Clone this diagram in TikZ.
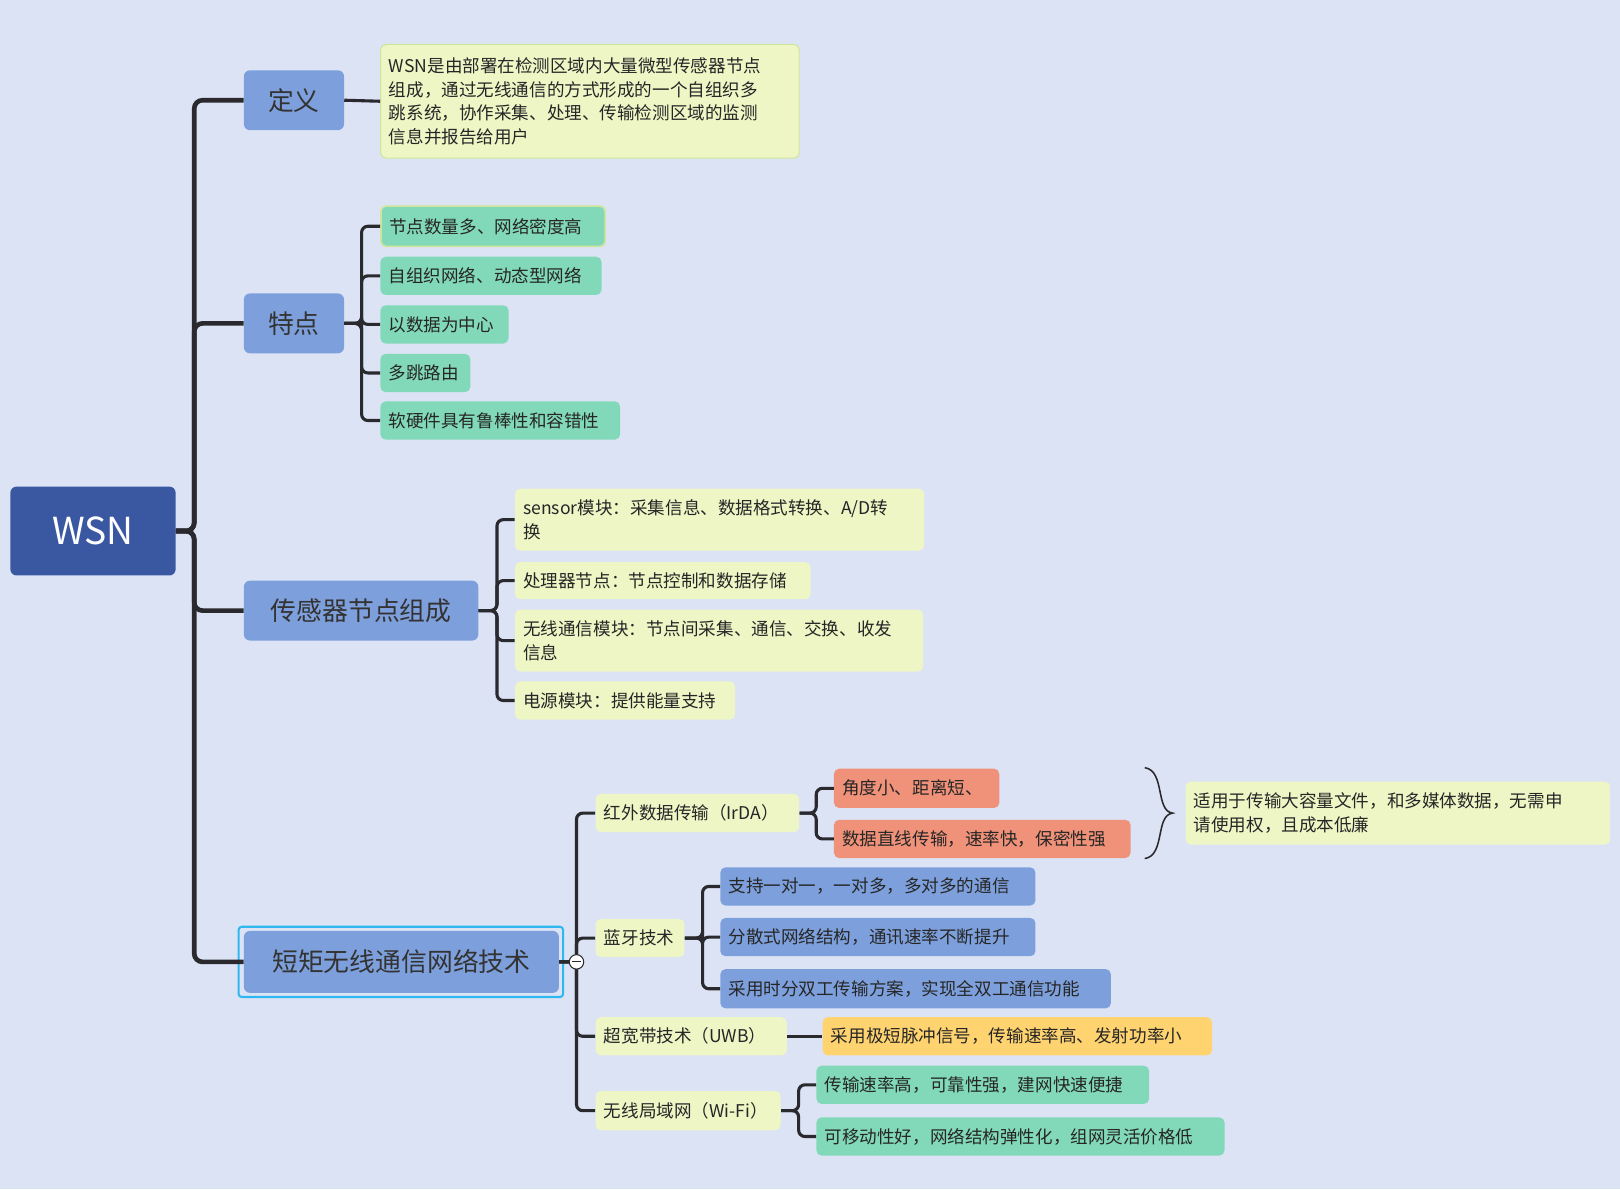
\documentclass[tikz,border=0pt]{standalone}
\usepackage{fontspec}
\setmainfont{Noto Sans CJK SC}
\begin{document}
\begin{tikzpicture}[x=1pt,y=-1pt,
 base/.style={anchor=west,rounded corners=5pt,inner xsep=8pt,inner ysep=3pt,align=left,font=\fontsize{17}{23}\selectfont,text=black!85},
 yel/.style={base,fill=yellowbox,draw=yellowline,line width=1pt},
 grn/.style={base,fill=greenbox},
 red/.style={base,fill=salmon},
 blu/.style={base,fill=lvl1},
 org/.style={base,fill=orangebox},
 lv1/.style={anchor=center,rounded corners=6pt,fill=lvl1,font=\fontsize{25}{30}\selectfont,text=black!80,inner sep=0pt},
 trunk/.style={line width=4.5pt,draw=lineclr,rounded corners=8pt},
 br/.style={line width=3pt,draw=lineclr,rounded corners=6pt}]
\definecolor{bg}{HTML}{DCE3F5}
\definecolor{yellowbox}{HTML}{EEF6C6}
\definecolor{yellowline}{HTML}{CFE59A}
\definecolor{greenbox}{HTML}{82D9B9}
\definecolor{salmon}{HTML}{F09279}
\definecolor{lvl1}{HTML}{7DA0DC}
\definecolor{orangebox}{HTML}{FFD470}
\definecolor{root}{HTML}{3A58A2}
\definecolor{lineclr}{HTML}{2A2A2E}
\definecolor{cyanb}{HTML}{2FB8F0}
\fill[bg] (0,0) rectangle (1568,1151);
\useasboundingbox (0,0) rectangle (1568,1151);
% root
\node[anchor=center,rounded corners=6pt,fill=root,minimum width=160pt,minimum height=86pt,text=white,font=\fontsize{36}{40}\selectfont] (wsn) at (90,514) {WSN};
% level 1
\node[lv1,minimum width=97pt,minimum height=58pt] (dy) at (284.5,97) {定义};
\node[lv1,minimum width=97pt,minimum height=58pt] (td) at (284.5,313) {特点};
\node[lv1,minimum width=227pt,minimum height=58pt] (cg) at (349.5,591) {传感器节点组成};
\draw[cyanb,line width=2pt,rounded corners=3pt] (231,897) rectangle (545,965);
\node[lv1,minimum width=305pt,minimum height=60pt] (dj) at (388.5,931) {短矩无线通信网络技术};
% definition
\node[yel,text width=389pt,minimum height=110pt] (def) at (368,98) {WSN是由部署在检测区域内大量微型传感器节点\\组成，通过无线通信的方式形成的一个自组织多\\跳系统，协作采集、处理、传输检测区域的监测\\信息并报告给用户};
% features
\node[grn,draw=yellowline,line width=1.5pt,text width=201pt,minimum height=39pt] (t1) at (368,219) {节点数量多、网络密度高};
\node[grn,text width=198pt,minimum height=37pt] (t2) at (368,267) {自组织网络、动态型网络};
\node[grn,text width=108pt,minimum height=37pt] (t3) at (368,314) {以数据为中心};
\node[grn,text width=71pt,minimum height=37pt] (t4) at (368,361) {多跳路由};
\node[grn,text width=216pt,minimum height=37pt] (t5) at (368,407) {软硬件具有鲁棒性和容错性};
% sensor node
\node[yel,draw=none,text width=380pt,minimum height=60pt] (c1) at (498,503) {sensor模块：采集信息、数据格式转换、A/D转\\换};
\node[yel,draw=none,text width=270pt,minimum height=36pt] (c2) at (498,562) {处理器节点：节点控制和数据存储};
\node[yel,draw=none,text width=379pt,minimum height=60pt] (c3) at (498,620) {无线通信模块：节点间采集、通信、交换、收发\\信息};
\node[yel,draw=none,text width=197pt,minimum height=37pt] (c4) at (498,678) {电源模块：提供能量支持};
% short range
\node[yel,draw=none,text width=181pt,minimum height=37pt] (s1) at (576,787) {红外数据传输（IrDA）};
\node[yel,draw=none,text width=70pt,minimum height=37pt] (s2) at (576,908) {蓝牙技术};
\node[yel,draw=none,text width=169pt,minimum height=37pt] (s3) at (576,1003) {超宽带技术（UWB）};
\node[yel,draw=none,text width=163pt,minimum height=38pt] (s4) at (576,1075) {无线局域网（Wi-Fi）};
\node[red,text width=144pt,minimum height=38pt] (i1) at (807,763) {角度小、距离短、};
\node[red,text width=271pt,minimum height=37pt] (i2) at (807,812) {数据直线传输，速率快，保密性强};
\node[yel,draw=none,text width=395pt,minimum height=61pt] (note) at (1147,787) {适用于传输大容量文件，和多媒体数据，无需申\\请使用权，且成本低廉};
\node[blu,text width=289pt,minimum height=37pt] (b1) at (697,858) {支持一对一，一对多，多对多的通信};
\node[blu,text width=289pt,minimum height=37pt] (b2) at (697,907) {分散式网络结构，通讯速率不断提升};
\node[blu,text width=362pt,minimum height=38pt] (b3) at (697,957) {采用时分双工传输方案，实现全双工通信功能};
\node[org,text width=361pt,minimum height=37pt] (u1) at (796,1003) {采用极短脉冲信号，传输速率高、发射功率小};
\node[grn,text width=306pt,minimum height=37pt] (w1) at (790,1050) {传输速率高，可靠性强，建网快速便捷};
\node[grn,text width=379pt,minimum height=37pt] (w2) at (790,1100) {可移动性好，网络结构弹性化，组网灵活价格低};
% connectors
\foreach \c in {dy,td,cg,dj} \draw[trunk] (wsn.east) -- (188,514) |- (\c.west);
\draw[br] (dy.east) -- (def.west);
\foreach \c in {t1,t2,t3,t4,t5} \draw[br] (td.east) -- (350,313) |- (\c.west);
\foreach \c in {c1,c2,c3,c4} \draw[br] (cg.east) -- (481,591) |- (\c.west);
\foreach \c in {s1,s2,s3,s4} \draw[br] (dj.east) -- (558,931) |- (\c.west);
\foreach \c in {i1,i2} \draw[br] (s1.east) -- (790,787) |- (\c.west);
\foreach \c in {b1,b2,b3} \draw[br] (s2.east) -- (680,908) |- (\c.west);
\draw[br] (s3.east) -- (u1.west);
\foreach \c in {w1,w2} \draw[br] (s4.east) -- (773,1075) |- (\c.west);
\node[circle,draw=lineclr,fill=white,line width=1pt,minimum size=14pt,inner sep=0pt] (col) at (558,931) {};
\draw[lineclr,line width=1pt] ([xshift=-4pt]col.center) -- ([xshift=4pt]col.center);
% brace
\coordinate (bt) at (1108,743);
\coordinate (bm) at (1135,787);
\coordinate (bb) at (1108,831);
\draw[lineclr,line width=1.5pt] (bt) .. controls (1128,746) and (1118,785) .. (bm) .. controls (1118,789) and (1128,828) .. (bb);
\end{tikzpicture}
\end{document}
